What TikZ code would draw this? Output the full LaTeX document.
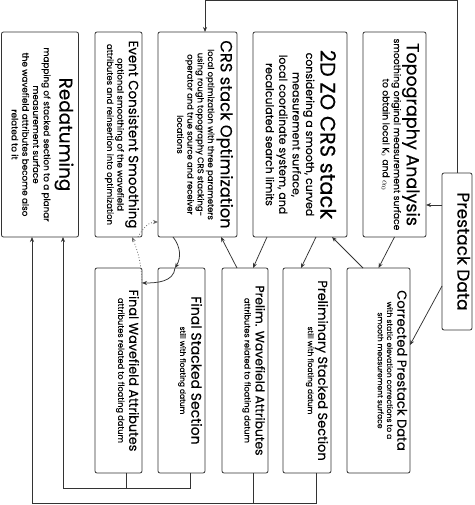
\documentclass[tikz,border=0pt]{standalone}
\usepackage{fontspec}
\setmainfont{Poppins}[FakeBold=0.25]
\usetikzlibrary{calc,arrows.meta}
\newcommand{\rbox}[4]{\rotatebox{-90}{\begin{minipage}[t][#1][t]{#2}\centering\vspace*{#3}#4\end{minipage}}}
\newcommand{\ttl}[2]{{\fontsize{#1}{#1}\selectfont #2\par}}
\newcommand{\dsc}[3]{\vspace{#1}{\fontsize{#2}{1.22\dimexpr#2\relax}\selectfont #3\par}}
\begin{document}
\begin{tikzpicture}[x=1pt,y=1pt,
  box/.style={draw=black!80, line width=0.8pt, rounded corners=2pt, inner sep=0pt, outer sep=0pt},
  arr/.style={-{Stealth[length=5pt,width=4pt]}, line width=0.75pt, draw=black!80},
  ln/.style={line width=0.75pt, draw=black!80},
  dot/.style={-{Stealth[length=5pt,width=4pt]}, line width=0.8pt, draw=black!60, dotted}]
\useasboundingbox (0,0) rectangle (474,505);
\fill[white] (0,0) rectangle (474,505);
% top row
\node[box] (red) at (40,370.5) {\rbox{77pt}{205pt}{5pt}{\ttl{18.4}{Redatuming}\dsc{3pt}{8.8pt}{mapping of stacked section to a planar\\ measurement surface\\ the wavefield attributes become also\\ related to it}}};
\node[box] (ecs) at (118.5,370.5) {\rbox{47pt}{205pt}{3pt}{\ttl{13.4}{Event Consistent Smoothing}\dsc{1pt}{8.5pt}{optional smoothing of the wavefield\\ attributes and reinsertion into optimization}}};
\node[box] (crs) at (197.5,370.5) {\rbox{79pt}{205pt}{4pt}{\ttl{16.3}{CRS stack Optimization}\dsc{1pt}{8.4pt}{local optimization with three parameters\\ using rough topography CRS stacking-\\ operator and true source and receiver\\ locations}}};
\node[box] (zo) at (300,370.5) {\rbox{94pt}{205pt}{11pt}{\ttl{21}{2D ZO CRS stack}\dsc{1pt}{11pt}{considering a smooth, curved\\ measurement surface,\\ local coordinate system, and\\ recalculated search limits}}};
\node[box] (topo) at (394.5,370.5) {\rbox{63pt}{205pt}{6pt}{\ttl{17.5}{Topography Analysis}\dsc{0pt}{9.2pt}{smoothing original measurement surface\\ to obtain local K$_0$ and $\alpha_0$}}};
\node[box] (pd) at (457,253.5) {\rbox{30pt}{157pt}{2pt}{\ttl{17}{Prestack Data}}};
% bottom row
\node[box] (fwa) at (118.5,134.5) {\rbox{47pt}{205pt}{3pt}{\ttl{12.8}{Final Wavefield Attributes}\dsc{1pt}{8.2pt}{attributes related to floating datum}}};
\node[box] (fss) at (181.5,134.5) {\rbox{47pt}{205pt}{3pt}{\ttl{14}{Final Stacked Section}\dsc{2pt}{7.5pt}{still with floating datum}}};
\node[box] (pwa) at (245,134.5) {\rbox{46pt}{205pt}{3pt}{\ttl{12.4}{Prelim. Wavefield Attributes}\dsc{1pt}{8.2pt}{attributes related to floating datum}}};
\node[box] (pss) at (307,134.5) {\rbox{48pt}{205pt}{3pt}{\ttl{13}{Preliminary Stacked Section}\dsc{1pt}{7.5pt}{still with floating datum}}};
\node[box] (cpd) at (378.5,134.5) {\rbox{63pt}{205pt}{3pt}{\ttl{13.1}{Corrected Prestack Data}\dsc{1pt}{7.6pt}{with static elevation corrections to a\\ smooth measurement surface}}};
% helper levels
\coordinate (topy) at (0,504.5);
\coordinate (midy) at (0,17);
\coordinate (boty) at (0,2);
% connectors
\draw[arr] (pd.north) -- (pd.north |- topy) -| ([xshift=7.5pt]crs.north);
\draw[arr] ([xshift=9pt]pss.south) |- ([xshift=-8pt]red.south |- boty) -- ([xshift=-8pt]red.south);
\draw[ln] ([xshift=8pt]pwa.south) -- ([xshift=8pt]pwa.south |- boty);
\draw[arr] ([xshift=8.5pt]fss.south) |- ([xshift=23pt]red.south |- midy) -- ([xshift=23pt]red.south);
\draw[ln] ([xshift=8pt]fwa.south) -- ([xshift=8pt]fwa.south |- midy);
\draw[arr] ([yshift=46.5pt]pd.west) -- ([yshift=46.5pt]pd.west -| topo.east);
\draw[arr] ([yshift=-34.5pt]pd.west) -- ([yshift=25.5pt]cpd.east);
\draw[arr] (topo.south) -- (cpd.north);
\draw[arr] ([xshift=-15.5pt]cpd.north) -- ([xshift=32pt]zo.south);
\draw[arr] ([xshift=16pt]zo.south) -- ([xshift=-6pt]pss.north);
\draw[arr] ([xshift=-33pt]zo.south) -- ([xshift=8pt]pwa.north);
\draw[arr] ([xshift=-8pt]pwa.north) -- ([xshift=23.5pt]crs.south);
\draw[arr] ([xshift=-24.5pt]crs.south) to[bend left=35] ([xshift=-6.5pt]fss.north);
\draw[arr] ([xshift=-6.5pt]fss.north) to[out=-95,in=0] ([yshift=87.5pt]fwa.east);
\draw[dot] ([yshift=87.5pt]fwa.east) to[bend right=10] ([xshift=13.5pt]ecs.south);
\draw[dot] ([xshift=-4pt]ecs.south east) to[out=60,in=180] ([yshift=-87.5pt]crs.west);
\end{tikzpicture}
\end{document}
